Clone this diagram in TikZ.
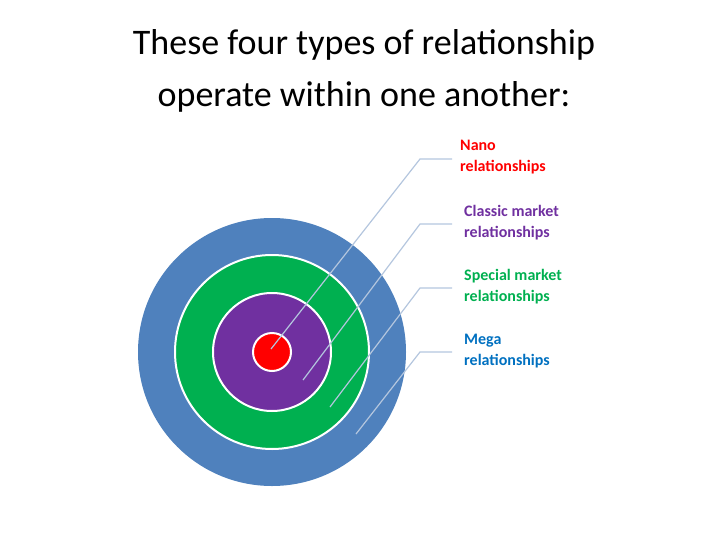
\documentclass[tikz,border=0pt]{standalone}
\usepackage{fontspec}
\setmainfont{Carlito}
\definecolor{cblue}{RGB}{79,129,189}
\definecolor{cgreen}{RGB}{0,176,80}
\definecolor{cpurple}{RGB}{112,48,160}
\definecolor{cred}{RGB}{255,0,0}
\definecolor{tblue}{RGB}{0,112,192}
\definecolor{lead}{RGB}{180,198,222}
\begin{document}
\begin{tikzpicture}[x=1pt,y=-1pt,
  ring/.style={circle,draw=white,line width=2pt,inner sep=0pt},
  lbl/.style={anchor=north west,align=left,font=\fontsize{16}{21}\selectfont\bfseries,inner sep=0pt},
  leader/.style={draw=lead,line width=1.2pt}]
\useasboundingbox (0,0) rectangle (728,546);
\node[align=center,font=\fontsize{36}{52}\selectfont] (title) at (364,71) {These four types of relationship\\operate within one another:};
\node[ring,fill=cblue,minimum size=268pt,draw=none] (c4) at (272,352) {};
\node[ring,fill=cgreen,minimum size=194pt] (c3) at (272,352) {};
\node[ring,fill=cpurple,minimum size=118pt] (c2) at (272,352) {};
\node[ring,fill=cred,minimum size=38pt] (c1) at (272,352) {};
\node[lbl,text=cred] (t1) at (460,140) {Nano\\relationships};
\node[lbl,text=cpurple] (t2) at (464,205) {Classic market\\relationships};
\node[lbl,text=cgreen] (t3) at (464,269) {Special market\\relationships};
\node[lbl,text=tblue] (t4) at (464,334) {Mega\\relationships};
\coordinate (e1) at (271,349); \coordinate (e2) at (303,380);
\coordinate (e3) at (330,407); \coordinate (e4) at (356,434);
\coordinate (h1) at (452,159); \coordinate (h2) at (452,224);
\coordinate (h3) at (452,288); \coordinate (h4) at (452,352);
\draw[leader] (e1) -- (420,159) -- (h1);
\draw[leader] (e2) -- (420,224) -- (h2);
\draw[leader] (e3) -- (420,288) -- (h3);
\draw[leader] (e4) -- (420,352) -- (h4);
\end{tikzpicture}
\end{document}
